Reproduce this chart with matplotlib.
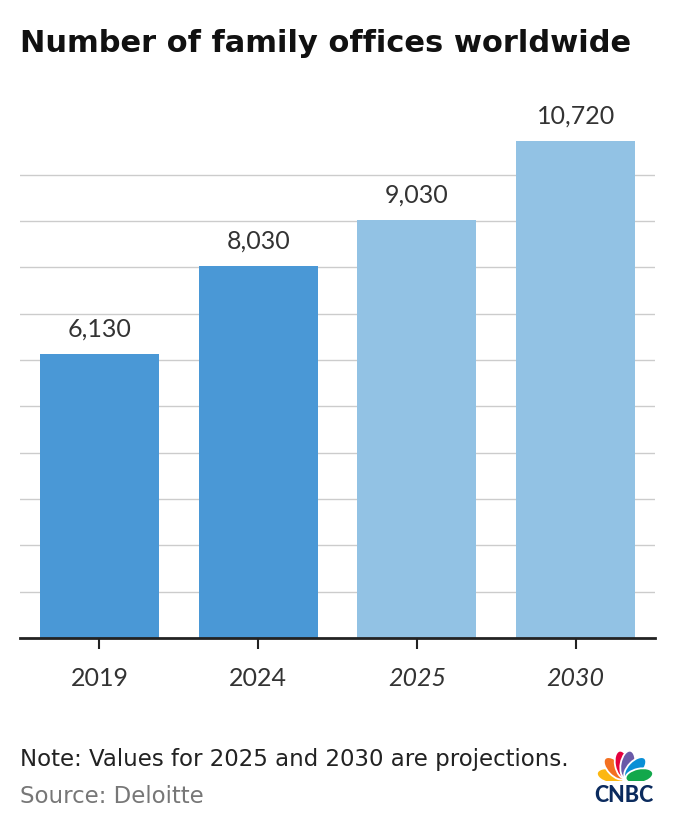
import numpy as np
import matplotlib.pyplot as plt
from matplotlib.patches import Ellipse

plt.rcParams['font.family'] = ['DejaVu Sans']

years = ["2019", "2024", "2025", "2030"]
offices = [6130, 8030, 9030, 10720]
projected = [False, False, True, True]

DARK = "#4a98d6"
LIGHT = "#92c2e4"
NUM_FONT = ["Lato", "DejaVu Sans"]


def draw_logo(fig):
    # rough CNBC peacock + wordmark
    lax = fig.add_axes([596 / 676, (832 - 781) / 832, 58 / 676, 36 / 832])
    lax.set_xlim(-1.66, 1.66)
    lax.set_ylim(0, 2.06)
    lax.set_aspect("equal")
    lax.axis("off")
    cols = ["#fcb711", "#f37021", "#e4003d", "#6a5aa8", "#0a8fd6", "#12a84b"]
    angles = [168, 134, 101, 79, 46, 12]
    for c, a in zip(cols, angles):
        t = np.deg2rad(a)
        r = 0.84
        lax.add_patch(Ellipse((r * np.cos(t), 0.12 + r * np.sin(t)), 1.6, 0.82,
                              angle=a, facecolor=c, edgecolor="white", lw=1.3))
    fig.text(624 / 676, 1 - 802 / 832, "CNBC", fontsize=15.5, fontweight="black",
             family="Lato", color="#0b2b5e", ha="center", va="baseline")


def main():
    fig = plt.figure(figsize=(6.76, 8.32), dpi=100)
    ax = fig.add_axes([20 / 676, 194 / 832, 635 / 676, 538 / 832])

    x = np.arange(len(years))
    colors = [LIGHT if p else DARK for p in projected]
    bars = ax.bar(x, offices, width=0.75, color=colors, zorder=2)

    ax.set_xlim(-0.5, len(years) - 0.5)
    ax.set_ylim(0, 11612)
    ax.set_yticks(np.arange(1000, 11000, 1000))
    ax.yaxis.grid(True, color="#cccccc", linewidth=1, zorder=0)
    ax.tick_params(axis="y", left=False, labelleft=False)

    for s in ["top", "right", "left"]:
        ax.spines[s].set_visible(False)
    ax.spines["bottom"].set_color("#222222")
    ax.spines["bottom"].set_linewidth(2)
    ax.spines["bottom"].set_zorder(3)

    ax.set_xticks(x)
    ax.set_xticklabels(years, family=NUM_FONT)
    ax.tick_params(axis="x", length=8, width=1.5, color="#222222", pad=13,
                   labelsize=18, labelcolor="#333333")
    for lbl, p in zip(ax.get_xticklabels(), projected):
        if p:
            lbl.set_style("italic")

    for b, v in zip(bars, offices):
        ax.annotate(f"{v:,}", (b.get_x() + b.get_width() / 2, v),
                    xytext=(0, 12.5), textcoords="offset points",
                    ha="center", va="baseline", fontsize=18,
                    family=NUM_FONT, color="#333333")

    fig.text(20 / 676, 1 - 52 / 832, "Number of family offices worldwide",
             fontsize=22, fontweight="bold", color="#111111", va="baseline")
    fig.text(20 / 676, 1 - 766 / 832, "Note: Values for 2025 and 2030 are projections.",
             fontsize=16.5, color="#222222", va="baseline")
    fig.text(20 / 676, 1 - 803 / 832, "Source: Deloitte",
             fontsize=16.5, color="#777777", va="baseline")

    draw_logo(fig)

    plt.savefig("out.png", dpi=100)


if __name__ == "__main__":
    main()
